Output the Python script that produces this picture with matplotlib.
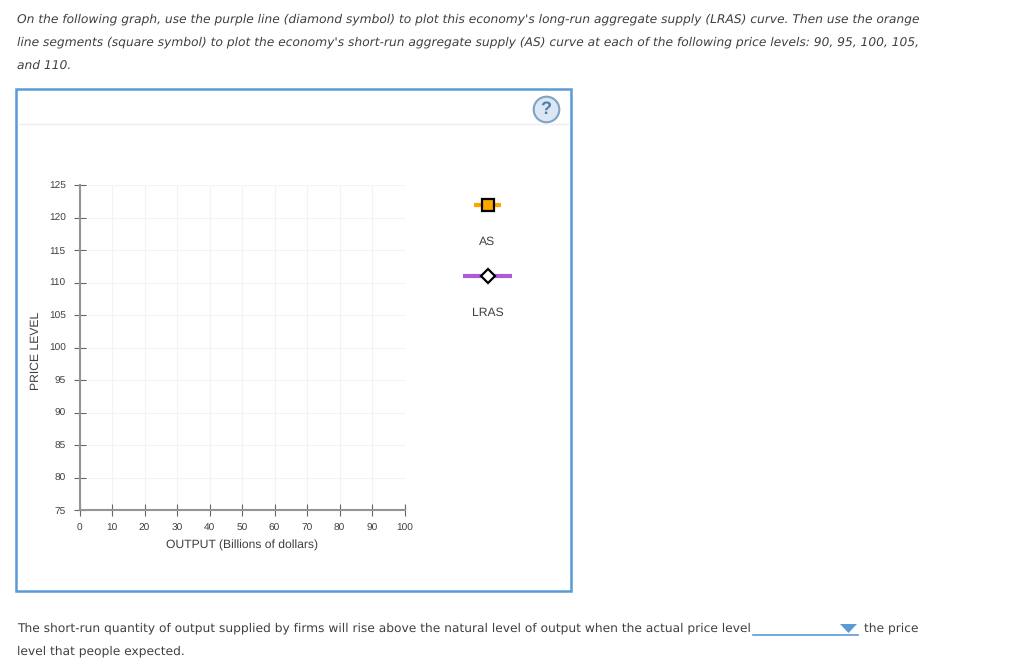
import matplotlib
matplotlib.use("Agg")
import matplotlib.pyplot as plt
from matplotlib.patches import Rectangle, Polygon

plt.rcParams["text.hinting"] = "no_hinting"

W, H = 1024, 669

x_ticks = [0, 10, 20, 30, 40, 50, 60, 70, 80, 90, 100]
y_ticks = [75, 80, 85, 90, 95, 100, 105, 110, 115, 120, 125]
x_label = "OUTPUT (Billions of dollars)"
y_label = "PRICE LEVEL"
intro = [
    "On the following graph, use the purple line (diamond symbol) to plot this economy's long-run aggregate supply (LRAS) curve. Then use the orange",
    "line segments (square symbol) to plot the economy's short-run aggregate supply (AS) curve at each of the following price levels: 90, 95, 100, 105,",
    "and 110.",
]
question_a = "The short-run quantity of output supplied by firms will rise above the natural level of output when the actual price level"
question_b = "the price"
question_c = "level that people expected."

text_col = "#3f3f3f"
frame_col = "#5b9bd5"
axis_col = "#949494"
grid_col = "#f3f3f3"
orange = "#ffa500"
purple = "#a95fd3"

fig = plt.figure(figsize=(W / 100, H / 100), dpi=100, facecolor="white")

# page level stuff is placed in pixels, y going down like the screenshot
bg = fig.add_axes([0, 0, 1, 1])
bg.set_xlim(0, W)
bg.set_ylim(H, 0)
bg.axis("off")

for txt, y in zip(intro, [19, 42.5, 66]):
    bg.text(17, y, txt, style="italic", fontsize=8.86, color=text_col, va="center", family="DejaVu Sans")
bg.text(17, 628, question_a, fontsize=8.85, color=text_col, va="center", family="DejaVu Sans")
bg.text(864, 628, question_b, fontsize=8.85, color=text_col, va="center", family="DejaVu Sans")
bg.text(17, 651.5, question_c, fontsize=8.85, color=text_col, va="center", family="DejaVu Sans")

# dropdown
bg.plot([753, 858], [635, 635], color=frame_col, lw=1.2)
bg.add_patch(Polygon([[840, 624], [857, 624], [848.5, 633]], closed=True, fc=frame_col, ec="none"))

# graph frame
bg.add_patch(Rectangle((16, 89), 554.5, 502, fc="white", ec=frame_col, lw=1.8))
bg.plot([19, 568], [123.5, 123.5], color="#eeeeee", lw=1)

# help icon
bg.scatter([545.5], [108.5], s=340, fc="#dbe7f3", ec="#7fa3c4", lw=1.5, zorder=3)
bg.text(545.5, 109.5, "?", fontsize=13, fontweight="bold", color="#4d7ea8", ha="center", va="center",
        family="Liberation Sans", zorder=4)

# palette
bg.plot([474, 501], [205, 205], color=orange, lw=3, solid_capstyle="butt")
bg.plot([487.5], [205], marker="s", ms=8, mfc=orange, mec="black", mew=1.6, ls="none")
bg.text(487.5, 242, "AS", fontsize=8.75, color=text_col, ha="center", va="center", family="Liberation Sans")
bg.plot([463, 512], [276, 276], color=purple, lw=3, solid_capstyle="butt")
bg.plot([487.5], [276], marker="D", ms=7.5, mfc="white", mec="black", mew=1.6, ls="none")
bg.text(487.5, 313, "LRAS", fontsize=8.75, color=text_col, ha="center", va="center", family="Liberation Sans")

# the plot itself
ax = fig.add_axes([79.5 / W, 1 - 510 / H, 325 / W, 325 / H])
ax.patch.set_alpha(0)
ax.set_xlim(0, 100)
ax.set_ylim(75, 125)
ax.set_xticks(x_ticks)
ax.set_yticks(y_ticks)
ax.grid(True, color=grid_col, lw=0.8)
ax.set_axisbelow(True)
for s in ["top", "right"]:
    ax.spines[s].set_visible(False)
for s in ["left", "bottom"]:
    ax.spines[s].set_color(axis_col)
    ax.spines[s].set_linewidth(1.5)
ax.tick_params(axis="x", direction="inout", length=8, width=0.8, color="#666666", labelsize=7.3, labelcolor=text_col, pad=5.5)
ax.tick_params(axis="y", direction="inout", length=8, width=0.8, color="#666666", labelsize=7.3, labelcolor=text_col, pad=6)
for lab in ax.get_xticklabels() + ax.get_yticklabels():
    lab.set_family("Liberation Sans")
    lab.set_y(lab.get_position()[1])
ax.set_xlabel(x_label, fontsize=8.75, color=text_col, family="Liberation Sans", labelpad=5)
ax.xaxis.set_label_coords(0.5, (510 - 545.5) / 325)
ax.xaxis.label.set_verticalalignment("center")
ax.set_ylabel(y_label, fontsize=8.75, color=text_col, family="Liberation Sans")
ax.yaxis.set_label_coords((36 - 79.5) / 325, (510 - 351) / 325)
ax.yaxis.label.set_verticalalignment("center")

fig.savefig("out.png", dpi=100)
